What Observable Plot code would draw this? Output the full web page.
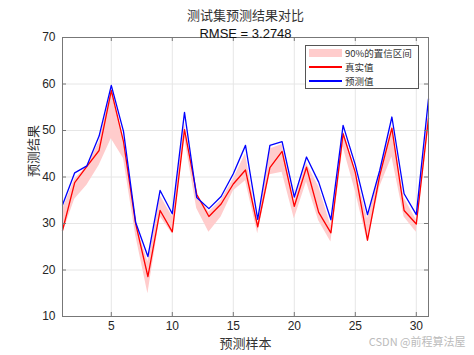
<!DOCTYPE html>
<html>
<head>
<meta charset="utf-8">
<script src="https://cdn.jsdelivr.net/npm/d3@7"></script>
<script src="https://cdn.jsdelivr.net/npm/@observablehq/plot@0.6"></script>
<style>
  html, body { margin: 0; padding: 0; background: #fff; }
  #wrap { position: relative; width: 474px; height: 355px; }
  #legend {
    position: absolute; left: 305px; top: 45px; width: 114px; height: 44px;
    border: 1px solid #555; background: #fff; box-sizing: border-box;
    font-family: "Noto Sans CJK SC", sans-serif; font-size: 9.5px; color: #333;
    padding: 0 0 0 3px; white-space: nowrap; overflow: hidden;
  }
  .item { display: flex; align-items: center; height: 14px; }
  .sw { width: 33px; margin-right: 3px; flex: none; }
</style>
</head>
<body>
<div id="wrap"></div>
<script>
// ---- data ----
const samples = d3.range(1, 32);
const trueVals = [28.5, 38.8, 42.3, 45.7, 58.6, 47.6, 29.9, 18.6, 32.8, 28.2,
                  50.2, 36.3, 31.5, 34.2, 38.5, 41.5, 29.3, 42.0, 45.5, 33.7,
                  42.1, 32.4, 28.0, 49.3, 41.0, 26.4, 40.3, 50.5, 32.8, 29.9, 52.6];
const predVals = [34.0, 40.9, 42.4, 48.8, 59.7, 49.8, 30.2, 22.9, 37.1, 32.1,
                  53.9, 35.6, 33.2, 35.8, 40.7, 46.8, 30.9, 46.8, 47.6, 35.7,
                  44.3, 38.9, 30.8, 51.1, 42.6, 31.9, 41.4, 52.9, 36.4, 31.9, 56.8];
const lowerVals = [27.8, 35.2, 38.2, 42.5, 48.2, 44.0, 27.4, 14.9, 31.5, 27.8,
                   48.5, 33.2, 28.1, 31.4, 37.0, 39.2, 27.8, 40.5, 41.0, 31.0,
                   38.9, 30.6, 26.0, 46.4, 37.0, 26.0, 37.8, 44.3, 31.4, 28.1, 50.5];
const upperVals = [33.0, 39.5, 42.3, 47.5, 58.6, 48.0, 30.0, 21.8, 36.0, 31.5,
                   51.5, 36.3, 32.5, 35.0, 39.5, 45.0, 30.0, 46.0, 47.0, 34.5,
                   43.0, 37.9, 29.5, 50.0, 41.5, 31.0, 41.0, 50.8, 35.5, 30.8, 53.5];
const xTicks = [5, 10, 15, 20, 25, 30];
const yTicks = [10, 20, 30, 40, 50, 60, 70];
const titleText = "测试集预测结果对比";
const subtitleText = "RMSE = 3.2748";
const xLabel = "预测样本";
const yLabel = "预测结果";
const legendLabels = ["90%的置信区间", "真实值", "预测值"];
const watermark = "CSDN @前程算法屋";

const rows = samples.map((s, i) => ({
  x: s, t: trueVals[i], p: predVals[i], lo: lowerVals[i], hi: upperVals[i]
}));

const cjk = "'Noto Sans CJK SC', sans-serif";
const latin = "'Liberation Sans', Arial, sans-serif";
const W = 474, H = 355, mL = 62, mR = 46, mT = 37, mB = 39;
const fw = W - mL - mR, fh = H - mT - mB, tk = 4;

const chart = Plot.plot({
  width: W,
  height: H,
  marginLeft: mL,
  marginRight: mR,
  marginTop: mT,
  marginBottom: mB,
  style: { fontFamily: latin, fontSize: "12px", color: "#262626", background: "#fff" },
  x: { domain: [1, 31] },
  y: { domain: [10, 70] },
  marks: [
    Plot.gridX(xTicks, { stroke: "#e6e6e6", strokeOpacity: 1 }),
    Plot.gridY(yTicks, { stroke: "#e6e6e6", strokeOpacity: 1 }),
    Plot.areaY(rows, { x: "x", y1: "lo", y2: "hi", fill: "#ffcccc", fillOpacity: 1 }),
    Plot.lineY(rows, { x: "x", y: "t", stroke: "#ff0000", strokeWidth: 1.3 }),
    Plot.lineY(rows, { x: "x", y: "p", stroke: "#0000ff", strokeWidth: 1.3 }),
    Plot.frame({ stroke: "#777" }),
    // inward ticks on all four sides
    Plot.tickX(xTicks, { x: d => d, insetTop: fh - tk, stroke: "#777" }),
    Plot.tickX(xTicks, { x: d => d, insetBottom: fh - tk, stroke: "#777" }),
    Plot.tickY(yTicks, { y: d => d, insetRight: fw - tk, stroke: "#777" }),
    Plot.tickY(yTicks, { y: d => d, insetLeft: fw - tk, stroke: "#777" }),
    Plot.axisX(xTicks, { anchor: "bottom", tickSize: 0, tickPadding: 5, label: null, fontSize: 12, fill: "#262626" }),
    Plot.axisY(yTicks, { anchor: "left", tickSize: 0, tickPadding: 7, label: null, fontSize: 12, fill: "#262626" }),
    Plot.text([titleText], { frameAnchor: "top", dy: -27, fontFamily: cjk, fontSize: 13, fill: "#333" }),
    Plot.text([subtitleText], { frameAnchor: "top", dy: -9, fontFamily: latin, fontSize: 13, fill: "#111" }),
    Plot.text([xLabel], { frameAnchor: "bottom", dy: 31, fontFamily: cjk, fontSize: 13, fill: "#333" }),
    Plot.text([yLabel], { frameAnchor: "left", dx: -29, rotate: -90, fontFamily: cjk, fontSize: 13, fill: "#333" }),
    Plot.text([watermark], { frameAnchor: "bottom-right", dx: 37, dy: 29, textAnchor: "end", fontFamily: cjk, fontSize: 11, fill: "#bbb" })
  ]
});

const wrap = document.getElementById("wrap");
wrap.appendChild(chart);

const legend = document.createElement("div");
legend.id = "legend";
const swatches = [
  '<div class="sw" style="height:8px;background:#ffcccc"></div>',
  '<div class="sw" style="height:1.4px;background:#ff0000"></div>',
  '<div class="sw" style="height:1.4px;background:#0000ff"></div>'
];
legend.innerHTML = legendLabels.map((l, i) =>
  `<div class="item">${swatches[i]}<span>${l}</span></div>`).join("");
wrap.appendChild(legend);
</script>
</body>
</html>
